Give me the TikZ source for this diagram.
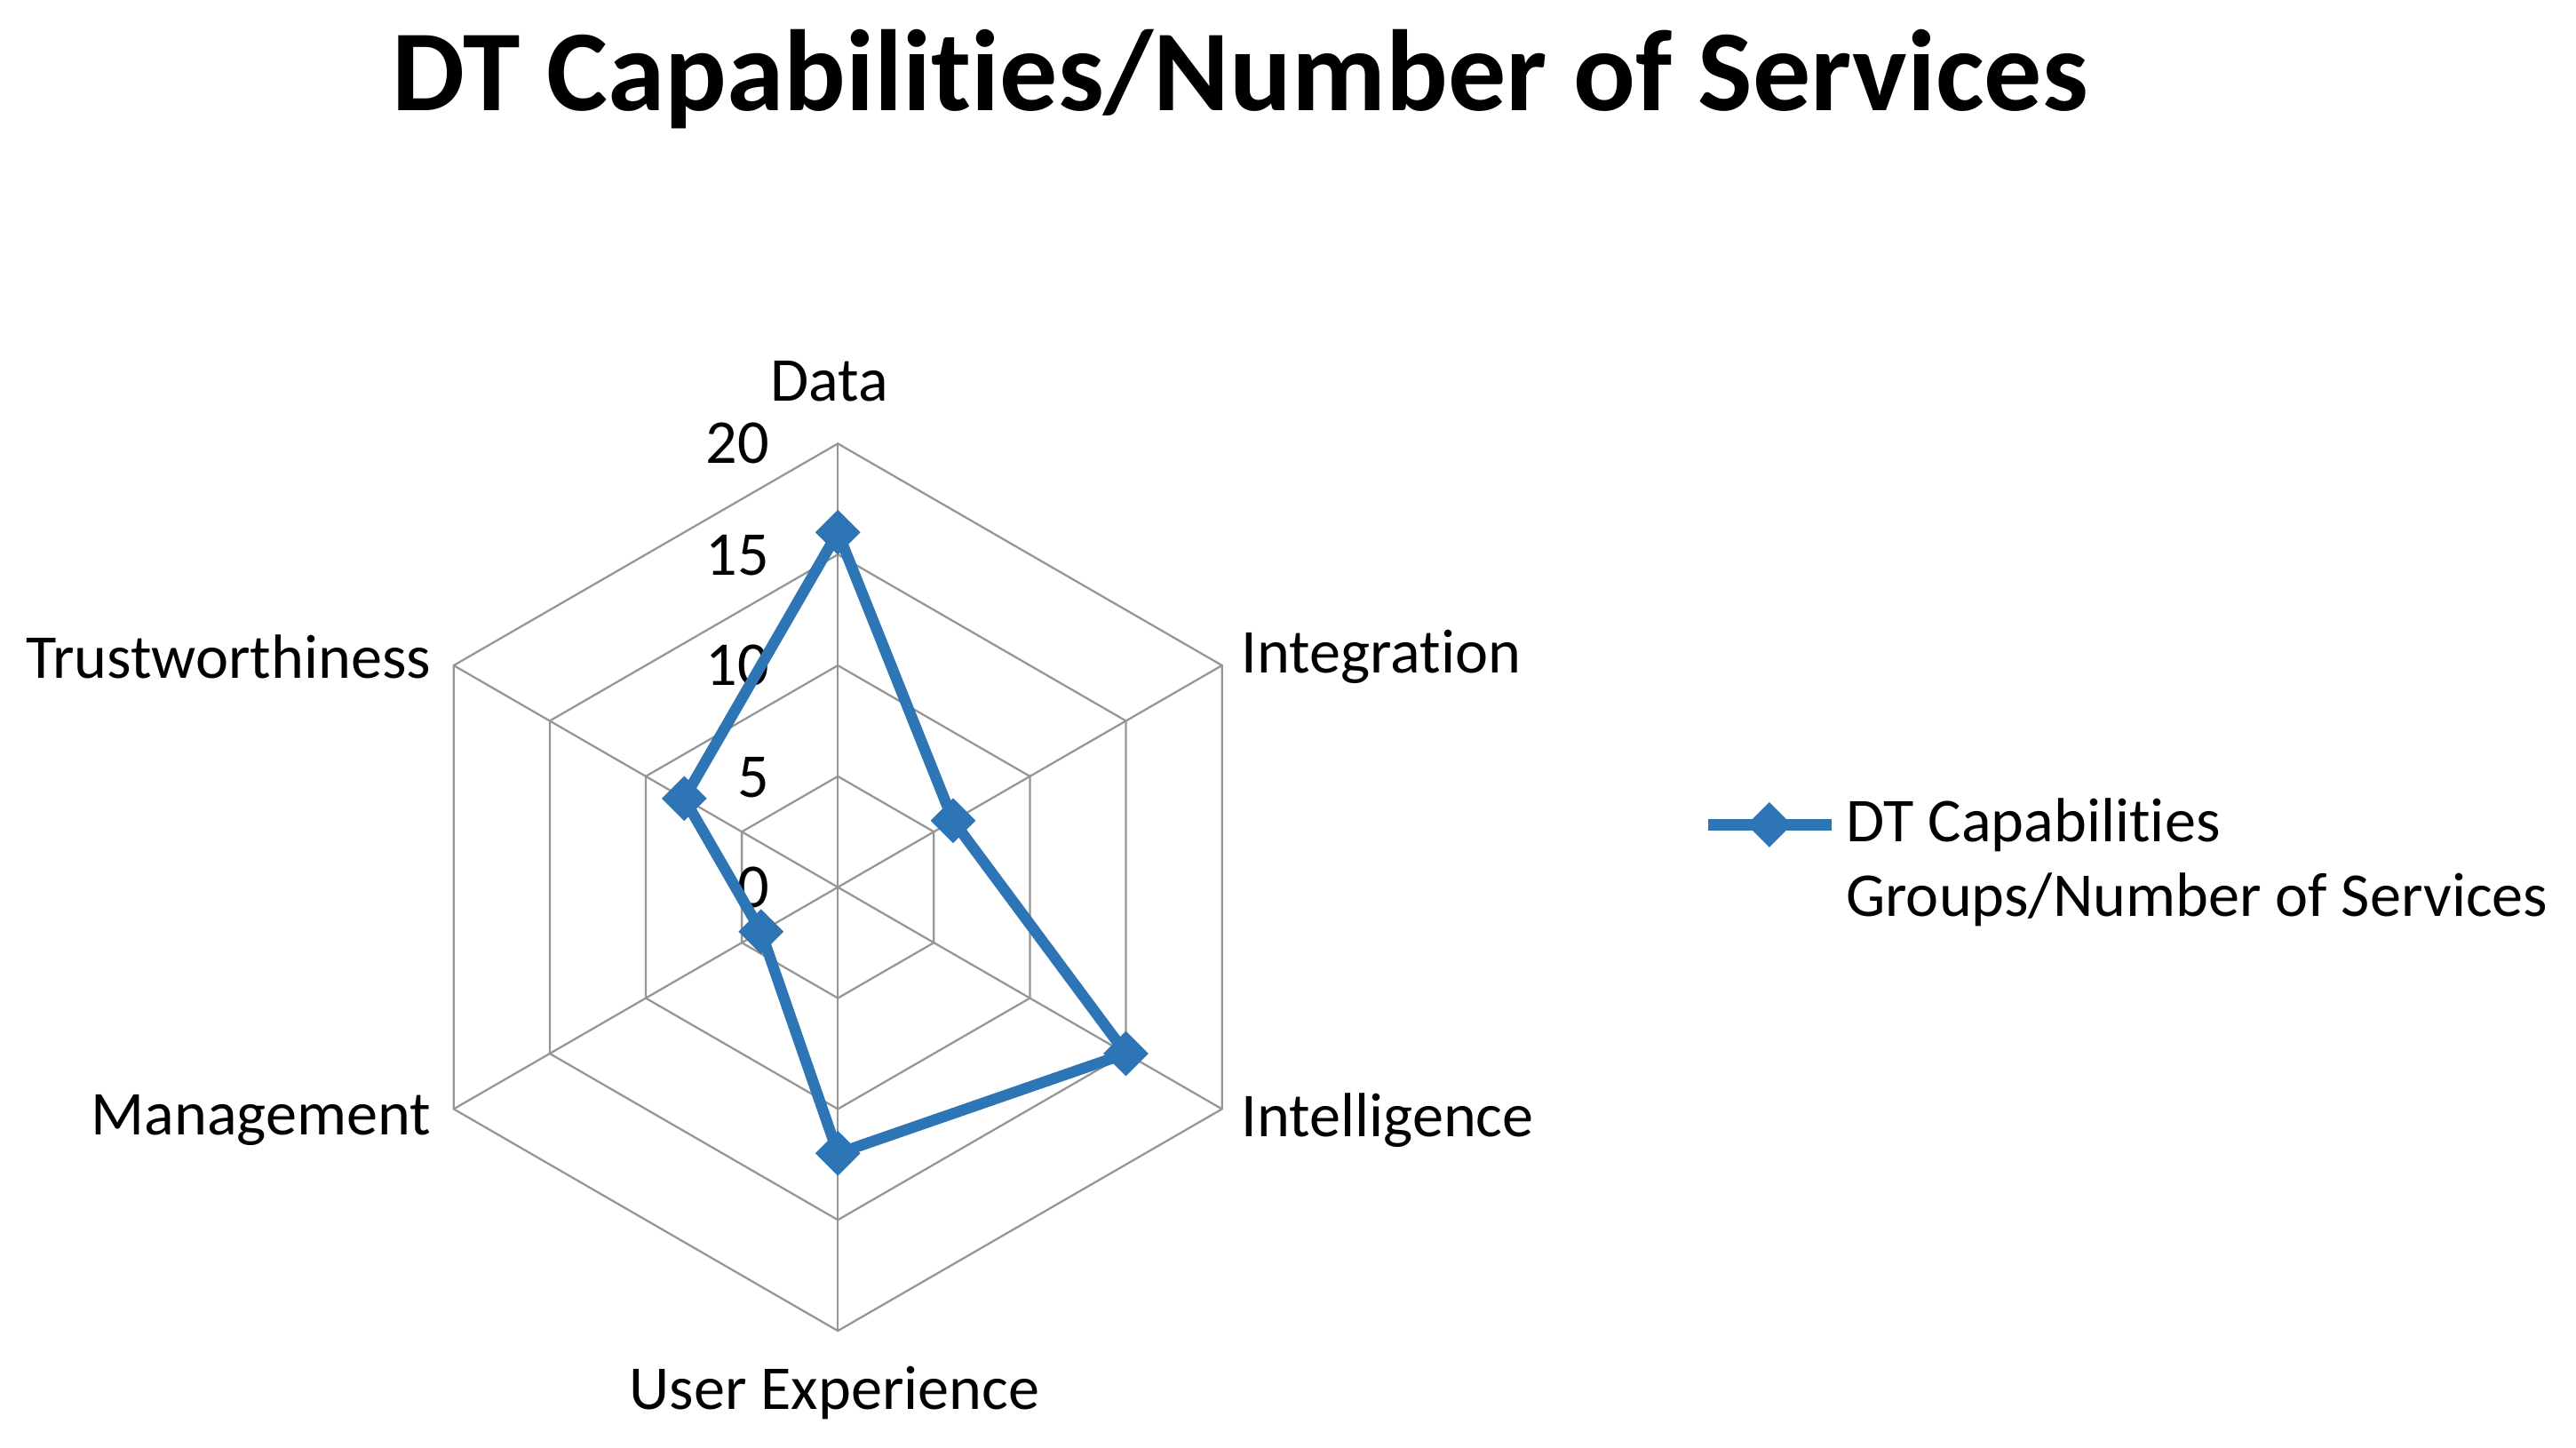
\documentclass[tikz,border=0pt]{standalone}
\usepackage{fontspec}
\setmainfont[Ligatures=NoCommon]{Carlito}
\usetikzlibrary{shapes.geometric,calc}
\definecolor{ser}{RGB}{46,117,182}
\definecolor{grid}{RGB}{150,150,150}
\begin{document}
\begin{tikzpicture}[x=0.01cm,y=-0.01cm,
  lab/.style={font=\fontsize{10.8}{13}\selectfont,inner sep=0pt},
  tick/.style={font=\fontsize{10.8}{13}\selectfont,inner sep=0pt,anchor=east},
  mk/.style={diamond,fill=ser,draw=none,minimum size=0.28cm,inner sep=0pt},
  gridl/.style={draw=grid,line width=0.35pt}]
\useasboundingbox (0,0) rectangle (1568,881);
\node[font=\bfseries\fontsize{20}{24}\selectfont,inner sep=0pt] (title) at (755,48) {DT Capabilities/Number of Services};
\coordinate (c) at (510,540);
% grid
\foreach \r in {67.5,135,202.5,270}{
  \draw[gridl] ($(c)+(90:\r)$) -- ($(c)+(30:\r)$) -- ($(c)+(-30:\r)$) -- ($(c)+(-90:\r)$) -- ($(c)+(-150:\r)$) -- ($(c)+(150:\r)$) -- cycle;
}
\foreach \a in {90,30,-30,-90,-150,150}{\draw[gridl] (c) -- ($(c)+(\a:270)$);}
% ticks
\node[tick] (t20) at (469,270) {20};
\node[tick] (t15) at (469,338) {15};
\node[tick] (t10) at (469,405) {10};
\node[tick] (t5) at (469,473) {5};
\node[tick] (t0) at (469,540) {0};
% axis labels
\node[lab] (ldata) at (505,232) {Data};
\node[lab,anchor=west] (lint) at (755,400) {Integration};
\node[lab,anchor=west] (lintel) at (755,682) {Intelligence};
\node[lab] (lux) at (508,848) {User Experience};
\node[lab,anchor=east] (lman) at (263,682) {Management};
\node[lab,anchor=east] (ltru) at (263,400) {Trustworthiness};
% data (1 unit = 13.5); y axis flipped, so angles negated
\coordinate (p1) at ($(c)+(-90:216)$);
\coordinate (p2) at ($(c)+(-30:81)$);
\coordinate (p3) at ($(c)+(30:202.5)$);
\coordinate (p4) at ($(c)+(90:162)$);
\coordinate (p5) at ($(c)+(150:54)$);
\coordinate (p6) at ($(c)+(-150:108)$);
\draw[ser,line width=1.9pt,line join=round] (p1) -- (p2) -- (p3) -- (p4) -- (p5) -- (p6) -- cycle;
\foreach \p in {p1,p2,p3,p4,p5,p6}{\node[mk] at (\p) {};}
% legend
\coordinate (la) at (1040,502);
\coordinate (lb) at (1115,502);
\draw[ser,line width=1.9pt] (la) -- (lb);
\node[mk] (lm) at (1077,502) {};
\node[lab,anchor=west,align=left] (ltext) at (1123,525) {DT Capabilities\\[0pt]Groups/Number of Services};
\end{tikzpicture}
\end{document}
